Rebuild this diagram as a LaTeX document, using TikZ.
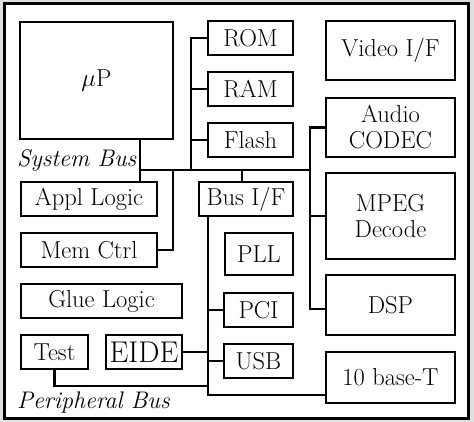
\documentclass[tikz,border=0pt]{standalone}
\tikzset{
  blk/.style={draw, line width=1.3pt, inner sep=0pt, align=center,
    font=\fontsize{24.5}{26}\selectfont},
  bus/.style={line width=2.5pt},
  buslabel/.style={anchor=base west, inner sep=0pt,
    font=\fontsize{24}{26}\selectfont\itshape}
}
\begin{document}
\begin{tikzpicture}[x=1pt, y=-1pt]
        \useasboundingbox (0,0) rectangle (474,422);
        \fill[gray!25] (0,0) rectangle (474,422);
        \draw[line width=3pt, fill=white] (4,4) rectangle (468,418);

        % left column
        \node[blk, minimum width=153pt, minimum height=117pt] (up) at (96.5,80.5) {$\mu$P};
        \node[blk, minimum width=136pt, minimum height=34pt] (appl) at (89,199) {Appl Logic};
        \node[blk, minimum width=136pt, minimum height=34pt] (mem) at (89,250) {Mem Ctrl};
        \node[blk, minimum width=161pt, minimum height=34pt] (glue) at (101.5,301) {Glue Logic};
        \node[blk, minimum width=67pt, minimum height=34pt] (test) at (54.5,352) {Test};
        \node[blk, minimum width=76pt, minimum height=34pt, font=\fontsize{30}{30}\selectfont] (eide) at (144,352) {EIDE};

        % middle column
        \node[blk, minimum width=85pt, minimum height=34pt] (rom) at (250.5,38) {ROM};
        \node[blk, minimum width=85pt, minimum height=34pt] (ram) at (250.5,89) {RAM};
        \node[blk, minimum width=85pt, minimum height=34pt] (flash) at (250.5,140) {Flash};
        \node[blk, minimum width=94pt, minimum height=34pt] (busif) at (246,199) {Bus I/F};
        \node[blk, minimum width=68pt, minimum height=42pt] (pll) at (259,254) {PLL};
        \node[blk, minimum width=69pt, minimum height=34pt] (pci) at (258.5,310) {PCI};
        \node[blk, minimum width=69pt, minimum height=34pt] (usb) at (258.5,361) {USB};

        % right column
        \node[blk, minimum width=129pt, minimum height=59pt] (video) at (390.5,50.5) {Video I/F};
        \node[blk, minimum width=129pt, minimum height=59pt] (audio) at (390.5,127.5) {Audio\\CODEC};
        \node[blk, minimum width=129pt, minimum height=86pt] (mpeg) at (390.5,216) {MPEG\\Decode};
        \node[blk, minimum width=129pt, minimum height=60pt] (dsp) at (390.5,305) {DSP};
        \node[blk, minimum width=129pt, minimum height=51pt] (tenbt) at (390.5,377.5) {10 base-T};

        % system bus
        \coordinate (sys) at (140,170);
        \coordinate (sysE) at (310,170);
        \coordinate (romb) at (191,170);
        \coordinate (memb) at (173,170);
        \coordinate (ifb) at (242,170);
        \coordinate (dspb) at (310,309);
        \draw[bus] (sys |- up.south) -- (sys |- appl.north);
        \draw[bus] (sys) -- (sysE);
        \draw[bus] (rom.west) -| (romb);
        \draw[bus] (ram.west) -- (ram.west -| romb);
        \draw[bus] (flash.west) -- (flash.west -| romb);
        \draw[bus] (memb) |- (mem.east);
        \draw[bus] (ifb) -- (ifb |- busif.north);
        \draw[bus] (audio.west) -| (dspb) -- (dspb -| dsp.west);
        \draw[bus] (mpeg.west) -- (mpeg.west -| dspb);
        \node[buslabel] (syslbl) at (17,167) {System Bus};

        % peripheral bus
        \coordinate (perb) at (208,395);
        \coordinate (testb) at (54.5,386);
        \draw[bus] (perb |- busif.south) -- (perb) -- (perb -| tenbt.west);
        \draw[bus] (pci.west) -- (pci.west -| perb);
        \draw[bus] (usb.west) -- (usb.west -| perb);
        \draw[bus] (eide.east) -- (eide.east -| perb);
        \draw[bus] (test.south) -- (testb) -- (testb -| perb);
        \node[buslabel] (perlbl) at (17,408) {Peripheral Bus};
\end{tikzpicture}
\end{document}
